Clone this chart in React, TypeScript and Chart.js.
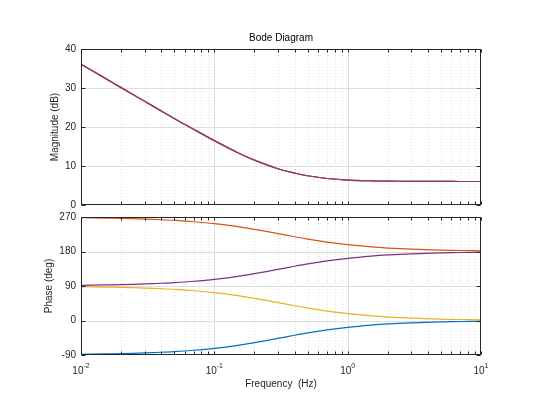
import React, { useEffect, useRef } from 'react';
import { Chart, registerables } from 'chart.js';

Chart.register(...registerables);

// ---- data ----
const freqHz = [0.01, 0.015, 0.02, 0.03, 0.04, 0.05, 0.07, 0.1, 0.15, 0.2, 0.3, 0.4, 0.5, 0.7, 1, 1.5, 2, 3, 5, 7, 10];
const magnitudeDb = [36.1, 32.6, 30.1, 26.6, 24.1, 22.2, 19.4, 16.5, 13.4, 11.5, 9.3, 8.2, 7.5, 6.8, 6.4, 6.2, 6.13, 6.07, 6.04, 6.03, 6.02];
const phaseBlue = [-88.2, -87.3, -86.4, -84.6, -82.8, -81.1, -77.6, -72.6, -64.8, -57.9, -46.7, -38.5, -32.5, -24.4, -17.7, -12.0, -9.0, -6.1, -3.6, -2.6, -1.8];
const phaseYellow = [88.2, 87.3, 86.4, 84.6, 82.8, 81.1, 77.6, 72.6, 64.8, 57.9, 46.7, 38.5, 32.5, 24.4, 17.7, 12.0, 9.0, 6.1, 3.6, 2.6, 1.8];
const phasePurple = [91.8, 92.7, 93.6, 95.4, 97.2, 98.9, 102.4, 107.4, 115.2, 122.1, 133.3, 141.5, 147.5, 155.6, 162.3, 168.0, 171.0, 173.9, 176.4, 177.4, 178.2];
const phaseOrange = [268.2, 267.3, 266.4, 264.6, 262.8, 261.1, 257.6, 252.6, 244.8, 237.9, 226.7, 218.5, 212.5, 204.4, 197.7, 192.0, 189.0, 186.1, 183.6, 182.6, 181.8];

const seriesColors = ['#0072BD', '#D95319', '#EDB120', '#7E2F8E'];
// magnitude curves overlap; the top (purple) one is slightly see-through like the reference blend
const magColors = ['#0072BD', '#D95319', '#EDB120', 'rgba(126,47,142,0.82)'];

const xMajorTicks = [0.01, 0.1, 1, 10];
const xTickBase = '10';
const xTickExponents = ['-2', '-1', '0', '1'];
const xMinorMultipliers = [2, 3, 4, 5, 6, 7, 8, 9];

const magTicks = { min: 0, max: 40, step: 10 };
const phaseTicks = { min: -90, max: 270, step: 90 };

const chartTitle = 'Bode Diagram';
const magTitle = 'Magnitude (dB)';
const phaseTitle = 'Phase (deg)';
const xTitle = 'Frequency  (Hz)';

const FONT = '"Liberation Sans", Arial, Helvetica, sans-serif';
const TEXT = '#262626';

function pts(ys: number[]) {
  return freqHz.map((f, i) => ({ x: f, y: ys[i] }));
}

function framePlugin(kind: 'mag' | 'phase') {
  return {
    id: 'frame_' + kind,
    beforeDatasetsDraw(chart: any) {
      const { ctx, chartArea: a, scales } = chart;
      const xs = scales.x;
      const ys = scales.y;
      ctx.save();
      ctx.lineWidth = 1;
      // minor dotted x grid
      ctx.strokeStyle = '#dcdcdc';
      ctx.setLineDash([1, 2]);
      for (let d = 0; d < xMajorTicks.length - 1; d++) {
        for (const m of xMinorMultipliers) {
          const px = Math.round(xs.getPixelForValue(xMajorTicks[d] * m)) + 0.5;
          ctx.beginPath();
          ctx.moveTo(px, a.top);
          ctx.lineTo(px, a.bottom);
          ctx.stroke();
        }
      }
      ctx.setLineDash([]);
      ctx.strokeStyle = '#dedede';
      for (const v of xMajorTicks) {
        const px = Math.round(xs.getPixelForValue(v)) + 0.5;
        if (px <= a.left + 1 || px >= a.right - 1) continue;
        ctx.beginPath();
        ctx.moveTo(px, a.top);
        ctx.lineTo(px, a.bottom);
        ctx.stroke();
      }
      for (const t of ys.ticks) {
        const py = Math.round(ys.getPixelForValue(t.value)) + 0.5;
        if (py <= a.top + 1 || py >= a.bottom - 1) continue;
        ctx.beginPath();
        ctx.moveTo(a.left, py);
        ctx.lineTo(a.right, py);
        ctx.stroke();
      }
      ctx.restore();
    },
    afterDatasetsDraw(chart: any) {
      const { ctx, chartArea: a, scales } = chart;
      const xs = scales.x;
      const ys = scales.y;
      ctx.save();
      ctx.strokeStyle = TEXT;
      ctx.lineWidth = 1;
      const L = Math.round(a.left) + 0.5;
      const R = Math.round(a.right) - 0.5;
      const T = Math.round(a.top) + 0.5;
      const B = Math.round(a.bottom) - 0.5;
      const tlx = 3;
      const tly = 4;
      ctx.beginPath();
      const xVals: number[] = [];
      for (let d = 0; d < xMajorTicks.length; d++) {
        xVals.push(xMajorTicks[d]);
        if (d < xMajorTicks.length - 1) for (const m of xMinorMultipliers) xVals.push(xMajorTicks[d] * m);
      }
      for (const v of xVals) {
        const px = Math.round(xs.getPixelForValue(v)) + 0.5;
        ctx.moveTo(px, T);
        ctx.lineTo(px, T + tlx);
        ctx.moveTo(px, B);
        ctx.lineTo(px, B - tlx);
      }
      for (const t of ys.ticks) {
        const py = Math.round(ys.getPixelForValue(t.value)) + 0.5;
        ctx.moveTo(L, py);
        ctx.lineTo(L + tly, py);
        ctx.moveTo(R, py);
        ctx.lineTo(R - tly, py);
      }
      ctx.stroke();
      ctx.strokeRect(L, T, R - L, B - T);
      ctx.restore();
    },
    afterDraw(chart: any) {
      const { ctx, chartArea: a, scales } = chart;
      ctx.save();
      ctx.fillStyle = TEXT;
      ctx.textBaseline = 'middle';
      ctx.textAlign = 'center';
      ctx.font = `10px ${FONT}`;
      const cy = (a.top + a.bottom) / 2;
      if (kind === 'mag') {
        ctx.fillStyle = '#000';
        ctx.fillText(chartTitle, (a.left + a.right) / 2, 38);
        ctx.fillStyle = TEXT;
        ctx.save();
        ctx.translate(55, cy);
        ctx.rotate(-Math.PI / 2);
        ctx.fillText(magTitle, 0, 0);
        ctx.restore();
      } else {
        ctx.save();
        ctx.translate(49, cy);
        ctx.rotate(-Math.PI / 2);
        ctx.fillText(phaseTitle, 0, 0);
        ctx.restore();
        ctx.fillText(xTitle, (a.left + a.right) / 2, 384);
        // x tick labels with superscript exponents
        const xs = scales.x;
        xMajorTicks.forEach((v, i) => {
          const px = xs.getPixelForValue(v);
          ctx.font = `10px ${FONT}`;
          const w1 = ctx.measureText(xTickBase).width;
          ctx.font = `7px ${FONT}`;
          const w2 = ctx.measureText(xTickExponents[i]).width;
          const x0 = px - (w1 + w2) / 2;
          ctx.textAlign = 'left';
          ctx.textBaseline = 'alphabetic';
          ctx.font = `10px ${FONT}`;
          ctx.fillText(xTickBase, x0, 374);
          ctx.font = `7px ${FONT}`;
          ctx.fillText(xTickExponents[i], x0 + w1, 368);
        });
      }
      ctx.restore();
    },
  };
}

function baseOptions(pad: any, yr: { min: number; max: number; step: number }) {
  return {
    animation: false,
    responsive: false,
    layout: { padding: pad },
    plugins: { legend: { display: false }, tooltip: { enabled: false }, title: { display: false } },
    elements: { point: { radius: 0 }, line: { borderWidth: 1.2, tension: 0.3 } },
    scales: {
      x: {
        type: 'logarithmic',
        min: 0.01,
        max: 10,
        grid: { display: false, drawTicks: false, tickLength: 0 },
        border: { display: false },
        ticks: { display: false },
        afterFit: (s: any) => {
          s.height = 0;
        },
      },
      y: {
        min: yr.min,
        max: yr.max,
        grid: { display: false, drawTicks: false, tickLength: 0 },
        border: { display: false },
        ticks: { stepSize: yr.step, color: TEXT, padding: 5, font: { family: FONT, size: 10 } },
        afterFit: (s: any) => {
          s.width = 81;
        },
      },
    },
  };
}

// draw order: purple on top, then orange, yellow, blue
const drawOrder = [3, 1, 2, 0];

export default function App() {
  const magRef = useRef<HTMLCanvasElement>(null);
  const phaseRef = useRef<HTMLCanvasElement>(null);

  useEffect(() => {
    document.body.style.margin = '0';
    const mag = new Chart(magRef.current as HTMLCanvasElement, {
      type: 'line',
      data: {
        datasets: magColors.map((c, i) => ({
          data: pts(magnitudeDb),
          borderColor: c,
          backgroundColor: c,
          fill: false,
          order: drawOrder[i],
        })),
      },
      options: baseOptions({ top: 49, bottom: 195, left: 0, right: 52 }, magTicks) as any,
      plugins: [framePlugin('mag')],
    });
    const phaseSeries = [phaseBlue, phaseOrange, phaseYellow, phasePurple];
    const phase = new Chart(phaseRef.current as HTMLCanvasElement, {
      type: 'line',
      data: {
        datasets: phaseSeries.map((s, i) => ({
          data: pts(s),
          borderColor: seriesColors[i],
          backgroundColor: seriesColors[i],
          fill: false,
          order: drawOrder[i],
        })),
      },
      options: baseOptions({ top: 217, bottom: 45, left: 0, right: 52 }, phaseTicks) as any,
      plugins: [framePlugin('phase')],
    });
    return () => {
      mag.destroy();
      phase.destroy();
    };
  }, []);

  const cs: React.CSSProperties = { position: 'absolute', left: 0, top: 0, width: 533, height: 400 };
  return (
    <div style={{ position: 'absolute', left: 0, top: 0, width: 533, height: 400, background: '#fff' }}>
      <canvas ref={phaseRef} width={533} height={400} style={cs} />
      <canvas ref={magRef} width={533} height={400} style={cs} />
    </div>
  );
}
